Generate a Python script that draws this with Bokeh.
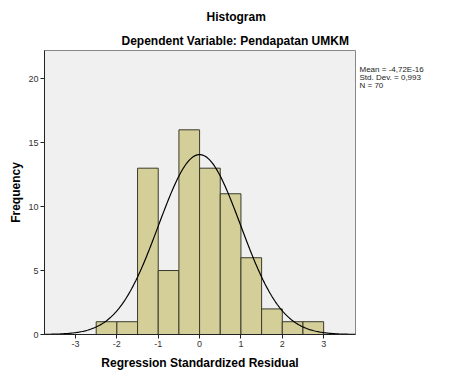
import numpy as np
from bokeh.plotting import figure
from bokeh.models import Title, Label, FixedTicker, Range1d
from bokeh.embed import file_html
from bokeh.resources import INLINE

# ---- data ----
bin_left = [-2.5, -2.0, -1.5, -1.0, -0.5, 0.0, 0.5, 1.0, 1.5, 2.0, 2.5]
bin_right = [-2.0, -1.5, -1.0, -0.5, 0.0, 0.5, 1.0, 1.5, 2.0, 2.5, 3.0]
counts = [1, 1, 13, 5, 16, 13, 11, 6, 2, 1, 1]
x_ticks = [-3, -2, -1, 0, 1, 2, 3]
y_ticks = [0, 5, 10, 15, 20]
stat_mean = -4.72e-16
stat_sd = 0.993
stat_n = 70
stat_lines = ["Mean = -4,72E-16", "Std. Dev. = 0,993", "N = 70"]

FONT = "Liberation Sans"

p = figure(width=466, height=372, output_backend="svg", toolbar_location=None,
           x_range=Range1d(-3.75, 3.77), y_range=Range1d(0, 22.2),
           min_border_left=44, min_border_top=50, min_border_right=111, min_border_bottom=38)
p.background_fill_color = "#F0F0F0"
p.border_fill_color = "white"
p.outline_line_color = "#888888"
p.grid.visible = False

p.quad(left=bin_left, right=bin_right, bottom=0, top=counts,
       fill_color="#D4CF99", line_color="#3a3a2a", line_width=1)

# normal curve from reported statistics
bw = bin_right[0] - bin_left[0]
xs = np.linspace(-3.75, 3.77, 300)
ys = stat_n * bw * np.exp(-0.5 * ((xs - stat_mean) / stat_sd) ** 2) / (stat_sd * np.sqrt(2 * np.pi))
p.line(xs, ys, line_color="black", line_width=1.2)

for ax in (p.xaxis[0], p.yaxis[0]):
    ax.minor_tick_line_color = None
    ax.major_tick_in = 0
    ax.major_tick_out = 4
    ax.axis_line_color = "#222222"
    ax.major_tick_line_color = "#222222"
    ax.major_label_text_font = FONT
    ax.major_label_text_font_size = "9px"
    ax.major_label_text_color = "#333333"
    ax.axis_label_text_font = FONT
    ax.axis_label_text_font_size = "12px"
    ax.axis_label_text_font_style = "bold"
    ax.axis_label_text_color = "black"
    ax.major_label_standoff = 2

p.xaxis[0].ticker = FixedTicker(ticks=x_ticks)
p.yaxis[0].ticker = FixedTicker(ticks=y_ticks)
p.xaxis[0].major_label_overrides = {t: str(t) for t in x_ticks}
p.yaxis[0].major_label_overrides = {t: str(t) for t in y_ticks}
p.xaxis[0].axis_label = "Regression Standardized Residual"
p.yaxis[0].axis_label = "Frequency"
p.xaxis[0].axis_label_standoff = 6
p.yaxis[0].axis_label_standoff = 2

p.title.visible = False
p.add_layout(Title(text="Dependent Variable: Pendapatan UMKM", align="left", offset=77,
                   text_font=FONT, text_font_size="12px", text_font_style="bold",
                   text_color="black", standoff=5), "above")
p.add_layout(Title(text="Histogram", align="left", offset=162,
                   text_font=FONT, text_font_size="12px", text_font_style="bold",
                   text_color="black", standoff=11), "above")

# statistics text in the right side panel (screen px from the frame's right/bottom)
p.add_layout(Label(x=4, y=257, x_units="screen", y_units="screen",
                   text="\n".join(stat_lines), text_font=FONT,
                   text_font_size="8px", text_color="#222222", text_line_height=0.85,
                   text_baseline="middle", text_align="left"), "right")

open("out.html", "w").write(file_html(p, INLINE))
